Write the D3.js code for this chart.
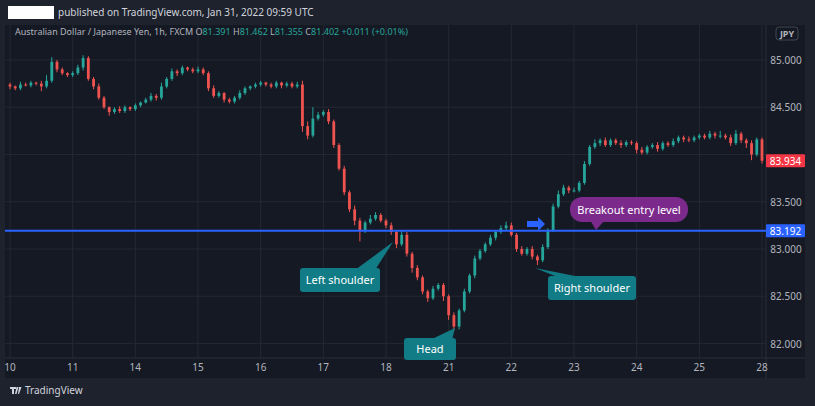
<!DOCTYPE html>
<html><head><meta charset="utf-8">
<script src="https://cdn.jsdelivr.net/npm/d3@7"></script>
<style>body{margin:0;background:#fff}svg{display:block;font-family:"Noto Sans",sans-serif}</style>
</head><body><svg id="c" width="815" height="406"></svg>
<script>
// 2-hour candles, 12 per trading day
const days = ["10","11","14","15","16","17","18","21","22","23","24","25","28"];
const closes = [
 84.72,84.70,84.74,84.73,84.76,84.75,84.72,84.78,84.98,84.90,84.86,84.84,
 84.86,84.92,85.02,84.80,84.72,84.60,84.50,84.45,84.48,84.46,84.50,84.48,
 84.52,84.55,84.58,84.62,84.60,84.72,84.80,84.88,84.86,84.92,84.90,84.88,
 84.90,84.86,84.70,84.62,84.65,84.58,84.56,84.60,84.65,84.70,84.72,84.74,
 84.76,84.74,84.72,84.76,84.73,84.75,84.72,84.74,84.30,84.20,84.38,84.42,
 84.45,84.35,84.10,83.85,83.60,83.42,83.30,83.20,83.28,83.32,83.36,83.30,
 83.25,83.18,83.05,83.15,82.95,82.80,82.70,82.55,82.48,82.58,82.62,82.50,
 82.30,82.18,82.35,82.55,82.72,82.90,82.98,83.05,83.12,83.18,83.22,83.25,
 83.15,83.00,82.95,83.00,82.92,82.88,83.02,83.20,83.45,83.58,83.65,83.62,
 83.62,83.70,83.90,84.08,84.12,84.15,84.10,84.15,84.12,84.10,84.13,84.12,
 84.05,84.02,84.08,84.10,84.06,84.12,84.10,84.14,84.18,84.16,84.15,84.18,
 84.20,84.18,84.22,84.20,84.20,84.18,84.12,84.22,84.15,84.12,84.00,84.16,
 83.934];
const firstOpen = 84.74;
// wick sizes beyond the body, in yen
const wickUp = [
 .02,.01,.03,.02,.02,.01,.03,.06,.05,.02,.02,.01, .02,.03,.03,.02,.02,.03,.02,.01,.02,.03,.02,.01,
 .02,.01,.02,.03,.02,.04,.02,.03,.02,.02,.01,.02, .03,.02,.02,.03,.02,.01,.02,.02,.03,.02,.01,.02,
 .02,.01,.02,.02,.01,.02,.02,.03,.04,.05,.12,.03, .02,.03,.02,.02,.03,.02,.04,.03,.02,.04,.03,.02,
 .02,.03,.02,.04,.03,.02,.03,.02,.02,.03,.02,.02, .02,.03,.02,.03,.02,.03,.02,.02,.03,.02,.03,.04,
 .03,.02,.03,.02,.03,.02,.03,.02,.03,.04,.03,.02, .03,.02,.03,.02,.04,.02,.03,.02,.02,.03,.02,.02,
 .02,.03,.02,.02,.03,.02,.02,.03,.02,.02,.03,.02, .02,.02,.03,.02,.05,.02,.03,.04,.02,.02,.03,.02, .02];
const wickDn = [
 .03,.02,.02,.01,.02,.02,.05,.02,.02,.03,.02,.02, .02,.02,.03,.02,.03,.02,.02,.04,.02,.02,.02,.02,
 .02,.02,.01,.02,.03,.02,.02,.02,.03,.02,.02,.02, .02,.02,.03,.02,.02,.03,.02,.02,.02,.02,.02,.02,
 .02,.02,.02,.02,.03,.02,.02,.02,.06,.04,.02,.02, .02,.03,.03,.02,.03,.03,.05,.12,.03,.02,.02,.02,
 .03,.03,.04,.02,.03,.05,.03,.03,.04,.02,.02,.05, .05,.04,.03,.02,.02,.03,.02,.02,.02,.03,.02,.02,
 .02,.03,.02,.02,.03,.05,.02,.02,.02,.02,.02,.03, .02,.02,.02,.02,.02,.03,.02,.02,.02,.03,.02,.02,
 .04,.02,.02,.02,.03,.02,.02,.02,.02,.03,.02,.02, .02,.02,.02,.03,.03,.02,.03,.02,.03,.05,.06,.02, .03];
const priceTicks = [82.0,82.5,83.0,83.5,84.0,84.5,85.0];
const breakout = 83.192;
const last = 83.934;
const header = "published on TradingView.com, Jan 31, 2022 09:59 UTC";
const ohlc = [["O","81.391"],["H","81.462"],["L","81.355"],["C","81.402"]];

const svg = d3.select("#c");
const L = 5, R = 766, T = 25, B = 358;
const bg = "#151924", grid = "#242833", txt = "#b2b5be", up = "#26a69a", dn = "#ef5350";

svg.append("rect").attr("width",815).attr("height",406).attr("fill","#1e222d");
svg.append("rect").attr("x",L).attr("y",T).attr("width",800).attr("height",353).attr("fill",bg);

const x = d3.scaleLinear().domain([0, 144]).range([10, 762]);
const y = d3.scaleLinear().domain([81.847, 85.370]).range([B, T]);

const g = svg.append("g");
priceTicks.forEach(p => g.append("line").attr("x1",L).attr("x2",R).attr("y1",y(p)).attr("y2",y(p)).attr("stroke",grid));
days.forEach((d,i) => g.append("line").attr("x1",x(i*12)).attr("x2",x(i*12)).attr("y1",T).attr("y2",B).attr("stroke",grid));
svg.append("line").attr("x1",R).attr("x2",R).attr("y1",T).attr("y2",378).attr("stroke","#2a2e39");
svg.append("line").attr("x1",L).attr("x2",805).attr("y1",B).attr("y2",B).attr("stroke","#2a2e39");

// candles
const candles = closes.map((c,i) => {
  const o = i ? closes[i-1] : firstOpen;
  return {i, o, c, h: Math.max(o,c)+wickUp[i], l: Math.min(o,c)-wickDn[i]};
});
const cg = svg.append("g");
cg.selectAll("line").data(candles).join("line")
  .attr("x1",d=>x(d.i)).attr("x2",d=>x(d.i)).attr("y1",d=>y(d.h)).attr("y2",d=>y(d.l))
  .attr("stroke",d=>d.c>=d.o?up:dn).attr("stroke-width",1);
cg.selectAll("rect").data(candles).join("rect")
  .attr("x",d=>x(d.i)-1.4).attr("width",2.8)
  .attr("y",d=>y(Math.max(d.o,d.c))).attr("height",d=>Math.max(1,Math.abs(y(d.o)-y(d.c))))
  .attr("fill",d=>d.c>=d.o?up:dn);

// breakout line
svg.append("line").attr("x1",L).attr("x2",R).attr("y1",y(breakout)).attr("y2",y(breakout)).attr("stroke","#2962ff").attr("stroke-width",2);

// right axis (labels hidden under the price tags are skipped)
const tagged = [last, breakout];
svg.append("g").selectAll("text").data(priceTicks.filter(p => tagged.every(t => Math.abs(y(t)-y(p)) > 11))).join("text")
  .attr("x",786).attr("y",p=>y(p)+4).attr("text-anchor","middle").attr("font-size",10).attr("fill",txt)
  .text(p=>d3.format(".3f")(p));
function tag(p,col){
  svg.append("rect").attr("x",766).attr("y",y(p)-6.5).attr("width",39).attr("height",13).attr("fill",col).attr("rx",1);
  svg.append("text").attr("x",785.5).attr("y",y(p)+4).attr("text-anchor","middle").attr("font-size",10).attr("fill","#fff").text(d3.format(".3f")(p));
}
tag(last, "#f23645");
tag(breakout, "#2962ff");
svg.append("rect").attr("x",776).attr("y",27).attr("width",22).attr("height",13).attr("rx",3).attr("fill","none").attr("stroke","#434651");
svg.append("text").attr("x",787).attr("y",37).attr("text-anchor","middle").attr("font-size",9).attr("font-weight","bold").attr("fill",txt).text("JPY");

// time axis
svg.append("g").selectAll("text").data(days).join("text")
  .attr("x",(d,i)=>x(i*12)).attr("y",371).attr("text-anchor","middle").attr("font-size",10).attr("fill",txt).text(d=>d);

// header
svg.append("rect").attr("x",8).attr("y",6).attr("width",46).attr("height",13).attr("fill","#fff");
svg.append("text").attr("x",58).attr("y",16).attr("font-size",10).attr("fill","#d1d4dc").text(header);
const ht = svg.append("text").attr("x",15).attr("y",35).attr("font-size",9).attr("fill",txt);
ht.append("tspan").text("Australian Dollar / Japanese Yen, 1h, FXCM ");
ohlc.forEach(([k,v]) => { ht.append("tspan").text(" "+k); ht.append("tspan").attr("fill",up).text(v); });
ht.append("tspan").attr("fill",up).text("  +0.011 (+0.01%)");

// footer logo
svg.append("path").attr("d","M10,387h6v2h-2v5h-2v-5h-2zM16.5,387h2l-2,7h-1.5zM19,387h2.5l-2.5,7h-1z").attr("fill","#d1d4dc");
svg.append("text").attr("x",25).attr("y",394).attr("font-size",10).attr("fill","#d1d4dc").text("TradingView");

// callouts
function callout(bx,by,w,h,col,label,tail,rx){
  svg.append("path").attr("d",`M${tail[0]},${tail[1]}L${tail[2]},${tail[3]}L${tail[4]},${tail[5]}Z`).attr("fill",col);
  svg.append("rect").attr("x",bx).attr("y",by).attr("width",w).attr("height",h).attr("rx",rx).attr("fill",col);
  svg.append("text").attr("x",bx+w/2).attr("y",by+h/2+4).attr("text-anchor","middle").attr("font-size",11).attr("fill","#fff").text(label);
}
const teal = "#117c86";
callout(300,268,80,24,teal,"Left shoulder",[355,270,393,242,375,270],3);
callout(548,276,88,24,teal,"Right shoulder",[560,278,535,268,585,278],3);
callout(404,338,52,22,teal,"Head",[430,340,455,328,452,340],3);
callout(570,197,118,25,"#7b2a8c","Breakout entry level",[590,220,596,230,605,220],12);
// arrow
svg.append("path").attr("d","M527,221L538,221L538,217L545,224L538,231L538,227L527,227Z").attr("fill","#2962ff");
</script></body></html>
